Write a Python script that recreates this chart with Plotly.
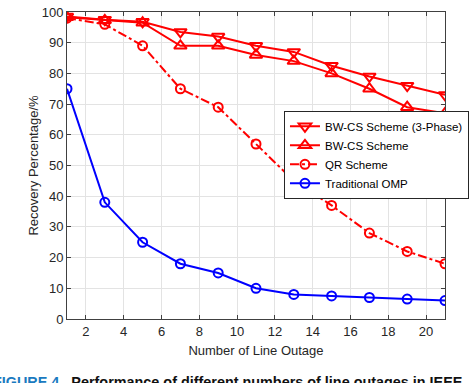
import plotly.graph_objects as go

x_outage = [1, 3, 5, 7, 9, 11, 13, 15, 17, 19, 21]
bwcs3 = [98.5, 97.5, 96.8, 93.5, 92, 89, 87, 82.5, 79, 76, 73]
bwcs = [98.3, 97.3, 96.5, 89, 89, 86, 84, 80, 75, 69, 67]
qr = [98, 96, 89, 75, 69, 57, 45, 37, 28, 22, 18]
omp = [75, 38, 25, 18, 15, 10, 8, 7.5, 7, 6.5, 6]

x_ticks = [2, 4, 6, 8, 10, 12, 14, 16, 18, 20]
y_ticks = [0, 10, 20, 30, 40, 50, 60, 70, 80, 90, 100]

RED = "#ff0000"
BLUE = "#0000ff"
FONT = "Liberation Sans, Arial, sans-serif"

fig = go.Figure()
fig.add_trace(go.Scatter(x=x_outage, y=bwcs3, name="BW-CS Scheme (3-Phase)",
                         mode="lines+markers", line=dict(color=RED, width=2),
                         marker=dict(symbol="triangle-down-open", size=11, color=RED, line=dict(width=2))))
fig.add_trace(go.Scatter(x=x_outage, y=bwcs, name="BW-CS Scheme",
                         mode="lines+markers", line=dict(color=RED, width=2),
                         marker=dict(symbol="triangle-up-open", size=11, color=RED, line=dict(width=2))))
fig.add_trace(go.Scatter(x=x_outage, y=qr, name="QR Scheme",
                         mode="lines+markers", line=dict(color=RED, width=2, dash="dashdot"),
                         marker=dict(symbol="circle-open", size=9, color=RED, line=dict(width=2))))
fig.add_trace(go.Scatter(x=x_outage, y=omp, name="Traditional OMP",
                         mode="lines+markers", line=dict(color=BLUE, width=2),
                         marker=dict(symbol="circle-open", size=9, color=BLUE, line=dict(width=2))))

axis_common = dict(showgrid=True, gridcolor="#e3e3e3", gridwidth=1,
                   showline=True, linecolor="#404040", linewidth=1, mirror="ticks",
                   ticks="inside", ticklen=4, tickcolor="#404040",
                   tickfont=dict(family=FONT, size=13, color="#262626"), zeroline=False,
                   ticklabeloverflow="allow")

fig.update_xaxes(range=[1, 21], tickvals=x_ticks,
                 title=dict(text="Number of Line Outage", font=dict(family=FONT, size=13, color="#262626"), standoff=8),
                 **axis_common)
fig.update_yaxes(range=[0, 100], tickvals=y_ticks,
                 title=dict(text="Recovery Percentage/%", font=dict(family=FONT, size=13, color="#262626"), standoff=0),
                 **axis_common)

fig.update_layout(
    width=474, height=383,
    margin=dict(l=67, r=6, t=5, b=64),
    plot_bgcolor="white", paper_bgcolor="white",
    font=dict(family=FONT),
    legend=dict(x=0.574, y=0.678, xanchor="left", yanchor="top",
                bgcolor="white", bordercolor="#262626", borderwidth=1,
                font=dict(family=FONT, size=11.5, color="#000000"),
                tracegroupgap=0, itemwidth=30),
    annotations=[dict(
        text="<b><span style='color:#1a7ac0'>FIGURE 4.</span>  Performance of different numbers of line outages in IEEE</b>",
        x=0, xref="paper", xanchor="left", xshift=-76,
        y=0, yref="paper", yanchor="top", yshift=-53,
        showarrow=False, font=dict(family=FONT, size=14.4, color="#111111"))]
)

fig.write_html("out.html", config={"displayModeBar": False},
               post_script="document.body.style.margin='0';document.body.style.overflow='hidden';")
